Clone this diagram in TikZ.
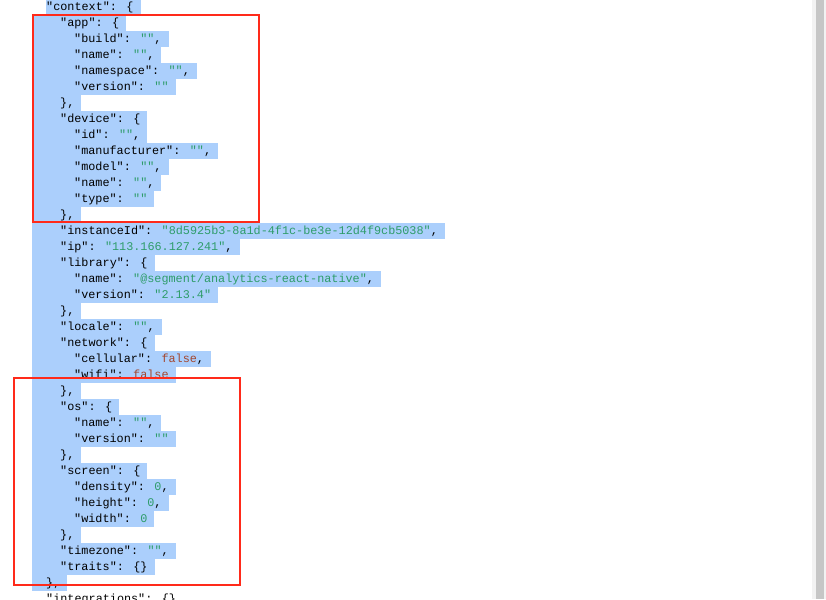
\documentclass[tikz,border=0pt]{standalone}
\usepackage{fontspec}
\usepackage{xcolor}
\newfontfamily\codefont{Liberation Mono}
\definecolor{selblue}{HTML}{ABCFFC}
\definecolor{strgreen}{HTML}{2E9C6A}
\definecolor{boolred}{HTML}{A3472F}
\definecolor{markred}{HTML}{FF2A1A}
\newcommand\sv[1]{\textcolor{strgreen}{"#1"}}
\newcommand\bv[1]{\textcolor{boolred}{#1}}

\begin{document}
\begin{tikzpicture}[x=1pt, y=-1pt, font=\codefont\fontsize{11.8}{14}\selectfont,
  codeline/.style={anchor=west, inner xsep=0pt, inner ysep=2.5pt, text height=9pt, text depth=2pt},
  sel/.style={fill=selblue},
  markbox/.style={draw=markred, line width=1.6pt}]
  \useasboundingbox (0,0) rectangle (826,599);

  % scrollbar
  \fill[gray!10] (812,0) rectangle (826,599);
  \fill[gray!45] (816,0) rectangle (824,599);

  % selected lines: row/level/text
  \node[codeline, sel] (r0) at (46,7) {"context": \{\kern7pt};
  \foreach \r/\l/\t in {
      1/1/{"app": \{},
      2/2/{"build": \sv{},},
      3/2/{"name": \sv{},},
      4/2/{"namespace": \sv{},},
      5/2/{"version": \sv{}},
      6/1/{\},},
      7/1/{"device": \{},
      8/2/{"id": \sv{},},
      9/2/{"manufacturer": \sv{},},
      10/2/{"model": \sv{},},
      11/2/{"name": \sv{},},
      12/2/{"type": \sv{}},
      13/1/{\},},
      14/1/{"instanceId": \sv{8d5925b3-8a1d-4f1c-be3e-12d4f9cb5038},},
      15/1/{"ip": \sv{113.166.127.241},},
      16/1/{"library": \{},
      17/2/{"name": \sv{@segment/analytics-react-native},},
      18/2/{"version": \sv{2.13.4}},
      19/1/{\},},
      20/1/{"locale": \sv{},},
      21/1/{"network": \{},
      22/2/{"cellular": \bv{false},},
      23/2/{"wifi": \bv{false}},
      24/1/{\},},
      25/1/{"os": \{},
      26/2/{"name": \sv{},},
      27/2/{"version": \sv{}},
      28/1/{\},},
      29/1/{"screen": \{},
      30/2/{"density": \textcolor{strgreen}{0},},
      31/2/{"height": \textcolor{strgreen}{0},},
      32/2/{"width": \textcolor{strgreen}{0}},
      33/1/{\},},
      34/1/{"timezone": \sv{},},
      35/1/{"traits": \{\}},
      36/0/{\},}}
  {
    \fill[sel] (32,16*\r-1) rectangle (46+14*\l,16*\r+15);
    \node[codeline, sel] (r\r) at (46+14*\l,16*\r+7) {\t\kern7pt};
  }
  \node[codeline] (r37) at (46,599) {"integrations": \{\}};

  % marked groups
  \draw[markbox] (33,15) rectangle (259,222);
  \draw[markbox] (14,378) rectangle (240,585);
\end{tikzpicture}
\end{document}
